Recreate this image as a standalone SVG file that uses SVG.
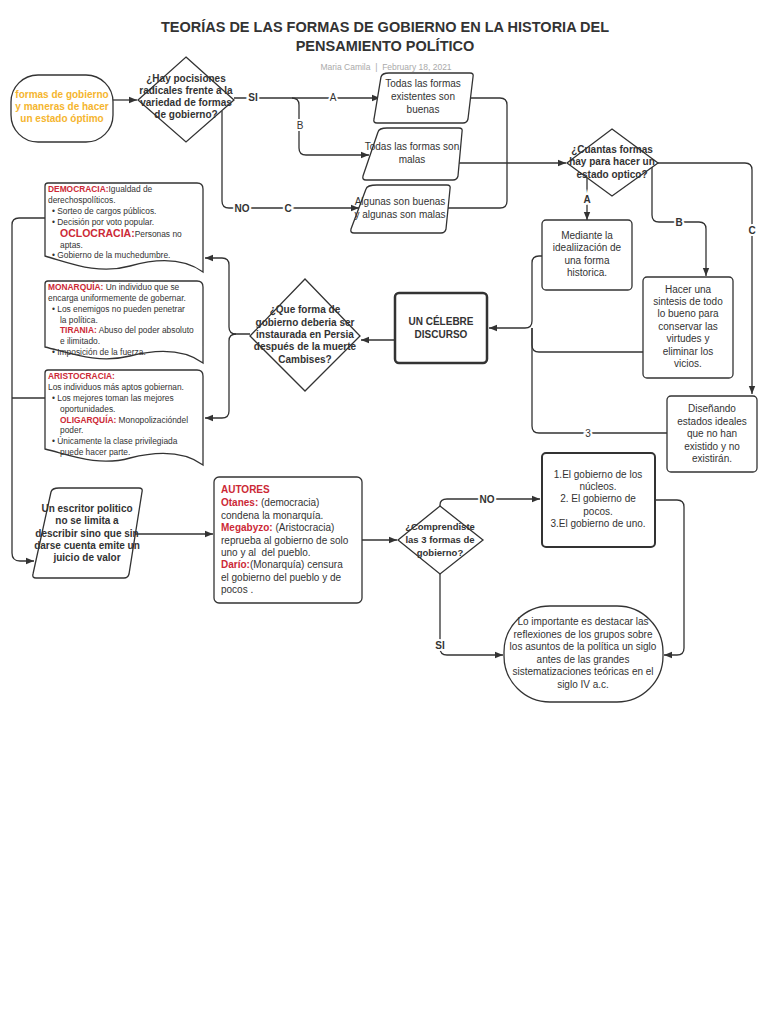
<svg xmlns="http://www.w3.org/2000/svg" width="768" height="1024" viewBox="0 0 768 1024">
<style>
text{font-family:"Liberation Sans",Arial,sans-serif;fill:#333}
.c{text-anchor:middle}
.b{font-weight:bold}
.s10{font-size:10px}
.s9{font-size:9.5px}
.s8{font-size:8.4px}
.red{fill:#cc2936;font-weight:bold}
.ln{fill:none;stroke:#333;stroke-width:1.3}
.sh{fill:#fff;stroke:#333;stroke-width:1.3}
.thick{fill:#fff;stroke:#333;stroke-width:2.5}
.lbl{paint-order:stroke;stroke:#fff;stroke-width:4px;font-size:10px}
</style>
<defs>
<marker id="ar" viewBox="0 0 10 10" refX="10" refY="5" markerWidth="8" markerHeight="8" markerUnits="userSpaceOnUse" orient="auto">
<path d="M0,1 L10,5 L0,9 Z" fill="#333"/>
</marker>
</defs>
<rect width="768" height="1024" fill="#fff"/>

<g id="title">
<text x="385" y="32" class="c b" style="font-size:14.5px">TEORÍAS DE LAS FORMAS DE GOBIERNO EN LA HISTORIA DEL</text>
<text x="385" y="51" class="c b" style="font-size:14.5px">PENSAMIENTO POLÍTICO</text>
<text x="386" y="70" class="c" style="font-size:8.5px;fill:#aaa" xml:space="preserve">Maria Camila  |  February 18, 2021</text>
</g>

<g id="connectors">
<path class="ln" d="M113,100 H137" marker-end="url(#ar)"/>
<path class="ln" d="M234,98 H380" marker-end="url(#ar)"/>
<path class="ln" d="M292,98 Q299,98 299,105 V148 Q299,155 306,155 H369" marker-end="url(#ar)"/>
<path class="ln" d="M222,111 V201 Q222,208 229,208 H359" marker-end="url(#ar)"/>
<path class="ln" d="M470,98 H500 Q507,98 507,105 V163"/>
<path class="ln" d="M458,163 H566" marker-end="url(#ar)"/>
<path class="ln" d="M446,208 H500 Q507,208 507,201 V163"/>
<path class="ln" d="M587,178 V220" marker-end="url(#ar)"/>
<path class="ln" d="M652,167 V215 Q652,222 659,222 H699 Q706,222 706,229 V276" marker-end="url(#ar)"/>
<path class="ln" d="M658,163 H745 Q752,163 752,170 V394" marker-end="url(#ar)"/>
<path class="ln" d="M542,256 H539 Q532,256 532,263 V321 Q532,328 525,328 H489" marker-end="url(#ar)"/>
<path class="ln" d="M643,352 H539 Q532,352 532,345 V328"/>
<path class="ln" d="M667,433 H539 Q532,433 532,426 V328"/>
<path class="ln" d="M395,340 H361" marker-end="url(#ar)"/>
<path class="ln" d="M250,334 H236 Q229,334 229,327 V265 Q229,258 222,258 H205" marker-end="url(#ar)"/>
<path class="ln" d="M236,334 Q229,334 229,341 V411 Q229,418 222,418 H205" marker-end="url(#ar)"/>
<path class="ln" d="M45,218 H19 Q12,218 12,225 V553 Q12,561 20,561 H34" marker-end="url(#ar)"/>
<path class="ln" d="M45,398 H12"/>
<path class="ln" d="M130,534 H213" marker-end="url(#ar)"/>
<path class="ln" d="M362,540 H397" marker-end="url(#ar)"/>
<path class="ln" d="M440,507 V505 Q440,499 447,499 H540" marker-end="url(#ar)"/>
<path class="ln" d="M655,500 H677 Q684,500 684,507 V648 Q684,655 677,655 H664" marker-end="url(#ar)"/>
<path class="ln" d="M440,573 V648 Q440,655 447,655 H503" marker-end="url(#ar)"/>
<text x="253" y="101" class="c b lbl">SI</text>
<text x="333" y="101" class="c lbl">A</text>
<text x="300" y="129" class="c lbl">B</text>
<text x="242" y="212" class="c b lbl">NO</text>
<text x="288" y="212" class="c b lbl">C</text>
<text x="587" y="203" class="c b lbl">A</text>
<text x="679" y="226" class="c b lbl">B</text>
<text x="752" y="234" class="c b lbl">C</text>
<text x="588" y="437" class="c lbl">3</text>
<text x="487" y="503" class="c b lbl">NO</text>
<text x="440" y="649" class="c b lbl">SI</text>
</g>

<g id="start">
<rect x="11" y="75" width="102" height="67" rx="27" class="sh"/>
<text x="62" y="98" class="c b s10" style="fill:#f5b52e">formas de gobierno</text>
<text x="62" y="110" class="c b s10" style="fill:#f5b52e">y maneras de hacer</text>
<text x="62" y="122" class="c b s10" style="fill:#f5b52e">un estado óptimo</text>
</g>

<g id="q1">
<path d="M186,57 L234,100 L186,142 L138,100 Z" class="sh"/>
<text x="186" y="82" class="c b s10">¿Hay pocisiones</text>
<text x="186" y="94" class="c b s10">radicales frente a la</text>
<text x="186" y="106" class="c b s10">variedad de formas</text>
<text x="186" y="118" class="c b s10">de gobierno?</text>
</g>

<g id="p1">
<path d="M389,73 H470 Q474,73 473,77 L468,119 Q467,123 463,123 H377 Q373,123 374,119 L381,77 Q382,73 389,73 Z" class="sh"/>
<text x="423" y="87" class="c s10">Todas las formas</text>
<text x="423" y="100" class="c s10">existentes son</text>
<text x="423" y="113" class="c s10">buenas</text>
</g>

<g id="p2">
<path d="M387,128 H459 Q463,128 462,132 L458,176 Q457,180 453,180 H366 Q362,180 363,176 L378,132 Q379,128 387,128 Z" class="sh"/>
<text x="412" y="150" class="c s10">Todas las formas son</text>
<text x="412" y="163" class="c s10">malas</text>
</g>

<g id="p3">
<path d="M377,185 H447 Q451,185 450,189 L446,229 Q445,233 441,233 H354 Q350,233 351,229 L366,189 Q367,185 377,185 Z" class="sh"/>
<text x="400" y="205" class="c s10">Algunas son buenas</text>
<text x="400" y="218" class="c s10">y algunas son malas</text>
</g>

<g id="q2">
<path d="M612,129 L658,163 L612,196 L567,163 Z" class="sh"/>
<text x="612" y="153" class="c b s10">¿Cuantas formas</text>
<text x="612" y="165" class="c b s10">hay para hacer un</text>
<text x="612" y="178" class="c b s10">estado optico?</text>
</g>

<g id="boxA">
<rect x="542" y="220" width="90" height="70" rx="4" class="sh"/>
<text x="587" y="239" class="c s10">Mediante la</text>
<text x="587" y="251" class="c s10">idealiización de</text>
<text x="587" y="264" class="c s10">una forma</text>
<text x="587" y="276" class="c s10">historica.</text>
</g>

<g id="boxB">
<rect x="643" y="277" width="90" height="101" rx="4" class="sh"/>
<text x="688" y="293" class="c s10">Hacer una</text>
<text x="688" y="305" class="c s10">sintesis de todo</text>
<text x="688" y="317" class="c s10">lo bueno para</text>
<text x="688" y="330" class="c s10">conservar las</text>
<text x="688" y="342" class="c s10">virtudes y</text>
<text x="688" y="355" class="c s10">eliminar los</text>
<text x="688" y="367" class="c s10">vicios.</text>
</g>

<g id="boxC">
<rect x="667" y="396" width="90" height="76" rx="4" class="sh"/>
<text x="712" y="412" class="c s10">Diseñando</text>
<text x="712" y="425" class="c s10">estados ideales</text>
<text x="712" y="437" class="c s10">que no han</text>
<text x="712" y="450" class="c s10">existido y no</text>
<text x="712" y="462" class="c s10">existirán.</text>
</g>

<g id="discurso">
<rect x="395" y="293" width="92" height="70" rx="4" class="thick"/>
<text x="441" y="325" class="c b s10">UN CÉLEBRE</text>
<text x="441" y="338" class="c b s10">DISCURSO</text>
</g>

<g id="q3">
<path d="M305,279 L360,336 L305,391 L250,336 Z" class="sh"/>
<text x="305" y="313" class="c b s10">¿Que forma de</text>
<text x="305" y="326" class="c b s10">gobierno deberia ser</text>
<text x="305" y="338" class="c b s10">instaurada en Persia</text>
<text x="305" y="350" class="c b s10">después de la muerte</text>
<text x="305" y="363" class="c b s10">Cambises?</text>
</g>

<g id="doc1">
<path d="M48,183 H197 Q203,183 203,189 V272 C185,259 162,257 130,266 C98,275 70,263 45,256 V186 Q45,183 48,183 Z" class="sh"/>
<text x="48" y="192" class="s8"><tspan class="red">DEMOCRACIA:</tspan>Igualdad de</text>
<text x="48" y="203" class="s8">derechospolíticos.</text>
<text x="52" y="214" class="s8">•  Sorteo de cargos públicos.</text>
<text x="52" y="225" class="s8">•  Decisión por voto popular.</text>
<text x="60" y="237" class="s8"><tspan class="red" style="font-size:10.5px">OCLOCRACIA:</tspan>Personas no</text>
<text x="60" y="248" class="s8">aptas.</text>
<text x="52" y="258" class="s8">•  Gobierno de la muchedumbre.</text>
</g>

<g id="doc2">
<path d="M48,281 H197 Q203,281 203,287 V363 C185,350 162,348 130,356 C98,364 70,353 45,347 V284 Q45,281 48,281 Z" class="sh"/>
<text x="48" y="290" class="s8"><tspan class="red">MONARQUÍA:</tspan> Un individuo que se</text>
<text x="48" y="301" class="s8">encarga uniformemente de gobernar.</text>
<text x="52" y="312" class="s8">•  Los enemigos no pueden penetrar</text>
<text x="60" y="323" class="s8">la política.</text>
<text x="60" y="333" class="s8"><tspan class="red">TIRANIA:</tspan> Abuso del poder absoluto</text>
<text x="60" y="344" class="s8">e ilimitado.</text>
<text x="52" y="355" class="s8">•  Imposición de la fuerza.</text>
</g>

<g id="doc3">
<path d="M48,370 H197 Q203,370 203,376 V465 C185,452 162,450 130,458 C98,467 70,455 45,449 V373 Q45,370 48,370 Z" class="sh"/>
<text x="48" y="379" class="s8 red">ARISTOCRACIA:</text>
<text x="48" y="390" class="s8">Los individuos más aptos gobiernan.</text>
<text x="52" y="401" class="s8">•  Los mejores toman las mejores</text>
<text x="60" y="412" class="s8">oportunidades.</text>
<text x="60" y="423" class="s8"><tspan class="red">OLIGARQUÍA:</tspan> Monopolizacióndel</text>
<text x="60" y="433" class="s8">poder.</text>
<text x="52" y="444" class="s8">•  Únicamente la clase privilegiada</text>
<text x="60" y="455" class="s8">puede hacer parte.</text>
</g>

<g id="escritor">
<path d="M59,488 H139 Q143,488 142,492 L129,574 Q128,578 124,578 H36 Q32,578 33,574 L51,492 Q52,488 59,488 Z" class="sh"/>
<text x="87" y="512" class="c b s10">Un escritor politico</text>
<text x="87" y="524" class="c b s10">no se limita a</text>
<text x="87" y="537" class="c b s10">describir sino que sin</text>
<text x="87" y="549" class="c b s10">darse cuenta emite un</text>
<text x="87" y="561" class="c b s10">juicio de valor</text>
</g>

<g id="autores">
<rect x="214" y="477" width="148" height="126" rx="5" class="sh"/>
<text x="221" y="493" class="s10 red">AUTORES</text>
<text x="221" y="506" class="s10"><tspan class="red">Otanes:</tspan> (democracia)</text>
<text x="221" y="519" class="s10">condena la monarquía.</text>
<text x="221" y="531" class="s10"><tspan class="red">Megabyzo:</tspan> (Aristocracia)</text>
<text x="221" y="544" class="s10">reprueba al gobierno de solo</text>
<text x="221" y="556" class="s10" xml:space="preserve">uno y al  del pueblo.</text>
<text x="221" y="568" class="s10"><tspan class="red">Darío:</tspan>(Monarquía) censura</text>
<text x="221" y="581" class="s10">el gobierno del pueblo y de</text>
<text x="221" y="593" class="s10">pocos .</text>
</g>

<g id="q4">
<path d="M440,506 L483,540 L440,574 L398,540 Z" class="sh"/>
<text x="440" y="530" class="c b s9">¿Comprendiste</text>
<text x="440" y="543" class="c b s9">las 3 formas de</text>
<text x="440" y="556" class="c b s9">gobierno?</text>
</g>

<g id="nucleos">
<rect x="542" y="453" width="113" height="94" rx="4" class="sh" style="stroke-width:2"/>
<text x="598" y="478" class="c s10">1.El gobierno de los</text>
<text x="598" y="490" class="c s10">núcleos.</text>
<text x="598" y="502" class="c s10">2. El gobierno de</text>
<text x="598" y="515" class="c s10">pocos.</text>
<text x="598" y="527" class="c s10">3.El gobierno de uno.</text>
</g>

<g id="final">
<rect x="504" y="606" width="159" height="96" rx="46" class="sh"/>
<text x="583" y="625" class="c s10">Lo importante es destacar las</text>
<text x="583" y="638" class="c s10">reflexiones de los grupos sobre</text>
<text x="583" y="650" class="c s10">los asuntos de la política un siglo</text>
<text x="583" y="663" class="c s10">antes de las grandes</text>
<text x="583" y="675" class="c s10">sistematizaciones teóricas en el</text>
<text x="583" y="688" class="c s10">siglo IV a.c.</text>
</g>
</svg>
